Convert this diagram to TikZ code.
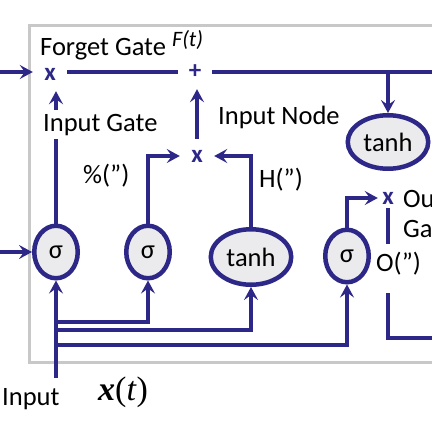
\documentclass[tikz,border=0pt]{standalone}
\usepackage{amsmath,amssymb}
\usepackage{fontspec}
\setmainfont{Carlito}
\newfontfamily\serifx{Liberation Serif}
\usepackage{tikz}
\usetikzlibrary{shapes.geometric,arrows.meta}
\definecolor{lstmblue}{RGB}{45,40,135}
\definecolor{gatefill}{RGB}{235,235,238}
\definecolor{framegray}{RGB}{200,200,200}

\begin{document}
\begin{tikzpicture}[x=1pt,y=-1pt,
    gate_node/.style={ellipse,draw=lstmblue,fill=gatefill,line width=4.5pt,inner sep=1pt,minimum width=43.5pt,minimum height=52.5pt,font=\fontsize{26.5}{30}\selectfont},
    tanh_node/.style={gate_node,minimum width=80.5pt,minimum height=55.5pt},
    mark_node/.style={circle,inner sep=0pt,minimum size=34pt,text=lstmblue,font=\fontsize{25}{28}\selectfont\bfseries},
    label_node/.style={inner sep=0pt,anchor=base west,font=\fontsize{26.5}{30}\selectfont},
    flow/.style={draw=lstmblue,line width=4pt},
    flow_arrow/.style={flow,-{Stealth[length=13pt,width=14pt,inset=5pt]}}]
    \useasboundingbox (0,0) rectangle (432,432);
    \draw[framegray,line width=3pt] (29,25) rectangle (445,362);

    % pointwise operations
	\node[mark_node] (fx) at (50,74) {x};
    \node[mark_node] (plus) at (195,72) {+};
    \node[mark_node] (ix) at (197,156) {x};
    \node[mark_node,minimum size=20pt] (ox) at (388,198) {x};

    % gates
    \node[gate_node] (s1) at (56,252) {σ};
    \node[gate_node] (s2) at (148,252) {σ};
    \node[tanh_node] (t1) at (251,257) {tanh};
    \node[gate_node] (s3) at (347,256) {σ};
    \node[tanh_node,minimum height=53.5pt] (t2) at (388,142) {tanh};

    \coordinate (cin) at (0,72);
    \coordinate (hin) at (0,252);
    \coordinate (xin) at (56,378);
    \coordinate (cout) at (432,72);
    \coordinate (b1) at (56,322);
    \coordinate (b2) at (56,330);
    \coordinate (b3) at (56,345);
    \coordinate (obrk1) at (388,244);
    \coordinate (obrk2) at (388,293);
    \coordinate (hout) at (432,338);

    \draw[flow_arrow] (cin) -- (cin -| fx.west);
    \draw[flow_arrow] (hin) -- (s1);
    \draw[flow_arrow] (xin) -- (s1);
    \draw[flow_arrow] (b1) -| (s2);
    \draw[flow_arrow] (b2) -| (t1);
    \draw[flow_arrow] (b3) -| (s3);
    \draw[flow_arrow] (s1) -- (s1 |- fx.south);
    \draw[flow_arrow] (s2) |- (ix);
    \draw[flow_arrow] (t1) |- (ix);
    \draw[flow_arrow] (ix) -- (ix |- plus.south);
    \draw[flow] (fx.east |- cout) -- (plus);
    \draw[flow] (plus) -- (cout);
    \draw[flow_arrow] (t2 |- cout) -- (t2);
    \draw[flow_arrow] (s3) |- (ox);
    \draw[flow] (ox) -- (obrk1);
    \draw[flow] (obrk2) |- (hout);

    % labels
    \node[label_node] (fg) at (40,55) {Forget Gate};
    \node[label_node,font=\fontsize{22}{26}\selectfont\itshape] (ft) at (172,46) {F(t)};
    \node[label_node,fill=white,inner sep=4pt] (ig) at (39,131) {Input Gate};
    \node[label_node] (in) at (218,124) {Input Node};
    \node[label_node] (il) at (83,183) {\%(")};
    \node[label_node] (hl) at (259,187) {H(")};
    \node[label_node] (ol) at (376,271) {O(")};
    \node[label_node] (og1) at (403,207) {Output};
    \node[label_node] (og2) at (403,237) {Gate};
    \node[label_node] (inp) at (2,405) {Input};
    \node[label_node,font=\fontsize{34}{36}\selectfont\serifx] (xt) at (98,400) {{\bfseries\itshape x}(\textit{t})};
\end{tikzpicture}
\end{document}
